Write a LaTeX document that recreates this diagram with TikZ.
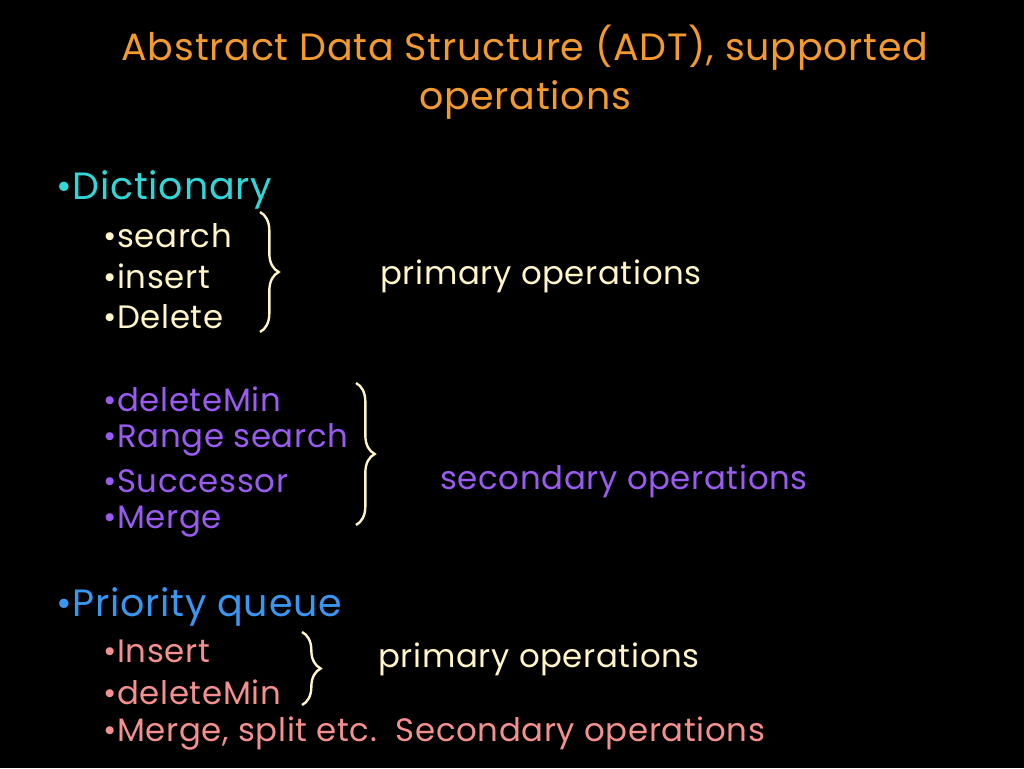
\documentclass[tikz,border=0pt]{standalone}
\usepackage{fontspec}
\setmainfont{Poppins}[LetterSpace=2]
\usetikzlibrary{decorations.pathreplacing}
\definecolor{ttl}{HTML}{F29A2E}
\definecolor{cy}{HTML}{33D6D6}
\definecolor{cr}{HTML}{FFF5C8}
\definecolor{pu}{HTML}{9A5CF0}
\definecolor{bl}{HTML}{3A96F0}
\definecolor{pk}{HTML}{F49090}
\begin{document}
\begin{tikzpicture}[x=0.75pt,y=-0.75pt,
  big/.style={font=\fontsize{28.5}{32}\selectfont,anchor=west,inner sep=0pt},
  sm/.style={font=\fontsize{24.3}{28}\selectfont,anchor=west,inner sep=0pt},
  br/.style={draw=cr,line width=1.8pt,decorate,decoration={brace,amplitude=14pt}}]
\fill[black] (0,0) rectangle (1024,768);
\node[font=\fontsize{28.5}{37}\selectfont,text=ttl,align=center,inner sep=0pt] (t) at (525,72) {Abstract Data Structure (ADT), supported\\operations};
\node[big,text=cy] (d) at (56,190) {•Dictionary};
\node[sm,text=cr] (s1) at (103,236) {•search};
\node[sm,text=cr] (s2) at (103,276) {•insert};
\node[sm,text=cr] (s3) at (103,317) {•Delete};
\coordinate (b1a) at (260,212); \coordinate (b1b) at (260,332);
\draw[br] (b1a) -- (b1b);
\node[sm,text=cr] (p1) at (380,276) {primary operations};
\node[sm,text=pu] (u1) at (103,399) {•deleteMin};
\node[sm,text=pu] (u2) at (103,440) {•Range search};
\node[sm,text=pu] (u3) at (103,481) {•Successor};
\node[sm,text=pu] (u4) at (103,522) {•Merge};
\coordinate (b2a) at (356,383); \coordinate (b2b) at (356,525);
\draw[br] (b2a) -- (b2b);
\node[sm,text=pu] (p2) at (440,481) {secondary operations};
\node[big,text=bl] (q) at (56,607) {•Priority queue};
\node[sm,text=pk] (k1) at (103,651) {•Insert};
\node[sm,text=pk] (k2) at (103,692) {•deleteMin};
\node[sm,text=pk] (k3) at (103,734) {•Merge, split etc.\ \ Secondary operations};
\coordinate (b3a) at (302,632); \coordinate (b3b) at (302,705);
\draw[br] (b3a) -- (b3b);
\node[sm,text=cr] (p3) at (378,659) {primary operations};
\end{tikzpicture}
\end{document}
